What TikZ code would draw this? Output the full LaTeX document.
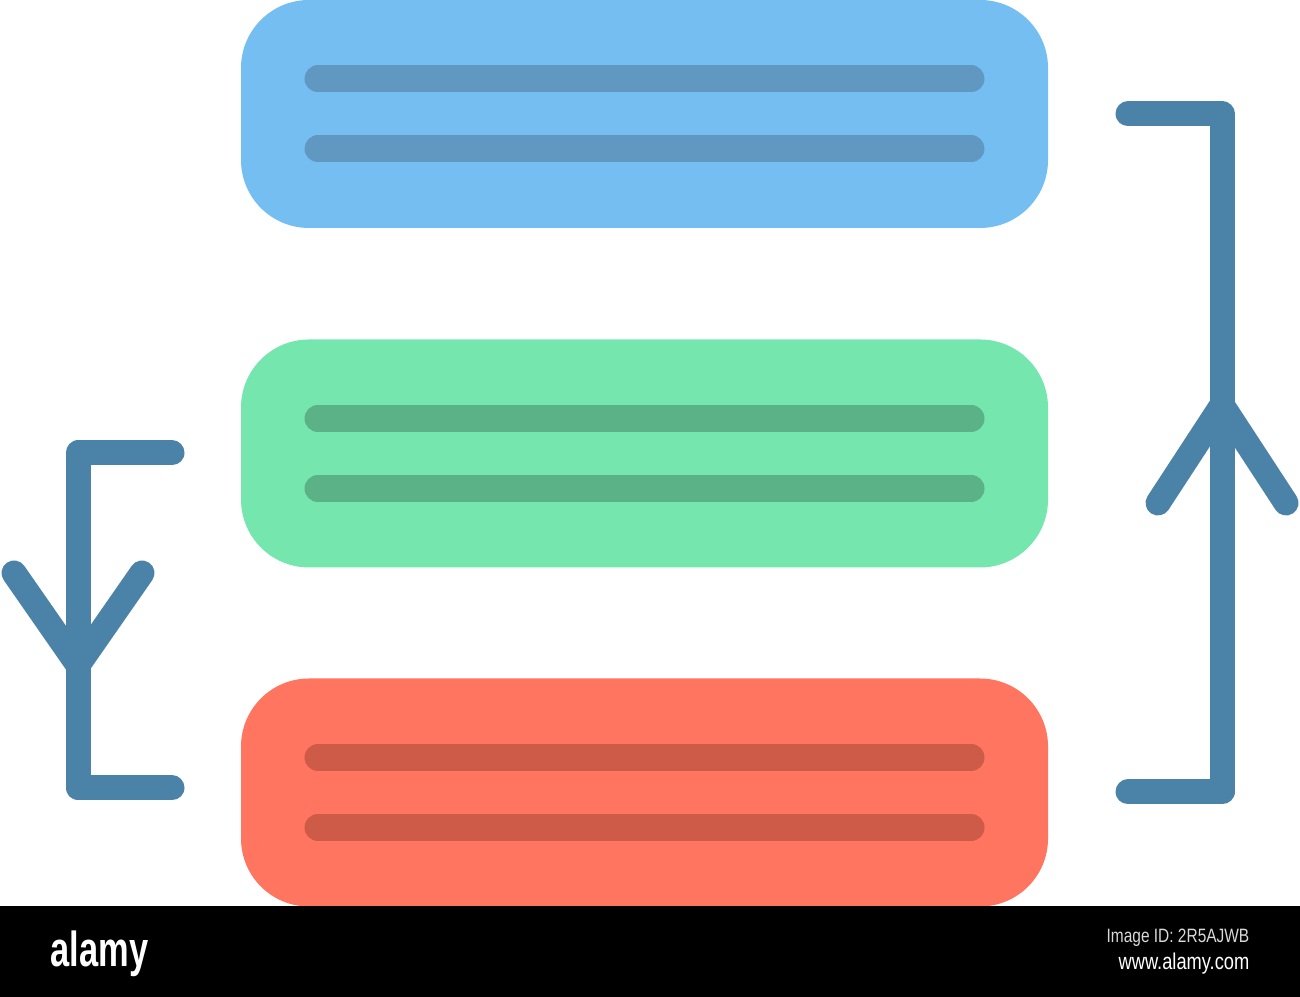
\documentclass[tikz,border=0pt]{standalone}
\usepackage{fontspec}
\setsansfont{Liberation Sans}
\definecolor{boxblue}{RGB}{116, 190, 242}
\definecolor{lineblue}{RGB}{96, 152, 194}
\definecolor{boxgreen}{RGB}{116, 230, 174}
\definecolor{linegreen}{RGB}{91, 178, 134}
\definecolor{boxred}{RGB}{255, 117, 96}
\definecolor{linered}{RGB}{206, 91, 72}
\definecolor{flowblue}{RGB}{74, 130, 168}
\usetikzlibrary{positioning, calc}

\begin{document}
\begin{tikzpicture}[
  card/.style={rounded corners=0.68cm, minimum width=8.07cm, minimum height=2.28cm, inner sep=0pt},
  bar/.style={line width=0.27cm, line cap=round},
  flow/.style={draw=flowblue, line width=0.25cm, line cap=round, line join=round}
]
  \useasboundingbox (0, 0) rectangle (13, 9.97);

  % Cards
  \node[card, fill=boxblue] (top) at (6.445, 8.83) {};
  \node[card, fill=boxgreen] (mid) at (6.445, 5.435) {};
  \node[card, fill=boxred] (bot) at (6.445, 2.045) {};

  % Text lines
  \draw[bar, lineblue] ($(top.center)+(-3.265, 0.35)$) -- ($(top.center)+(3.265, 0.35)$);
  \draw[bar, lineblue] ($(top.center)+(-3.265, -0.35)$) -- ($(top.center)+(3.265, -0.35)$);
  \draw[bar, linegreen] ($(mid.center)+(-3.265, 0.35)$) -- ($(mid.center)+(3.265, 0.35)$);
  \draw[bar, linegreen] ($(mid.center)+(-3.265, -0.35)$) -- ($(mid.center)+(3.265, -0.35)$);
  \draw[bar, linered] ($(bot.center)+(-3.265, 0.35)$) -- ($(bot.center)+(3.265, 0.35)$);
  \draw[bar, linered] ($(bot.center)+(-3.265, -0.35)$) -- ($(bot.center)+(3.265, -0.35)$);

  % Right bracket (up)
  \coordinate (rtop) at (11.28, 8.83);
  \coordinate (rbot) at (11.28, 2.05);
  \coordinate (rtip) at (12.22, 5.92);
  \draw[flow] (rtop) -- (12.22, 8.83) -- (12.22, 2.05) -- (rbot);
  \draw[flow] (11.58, 4.94) -- (rtip) -- (12.86, 4.94);

  % Left bracket (down)
  \coordinate (ltop) at (1.72, 5.44);
  \coordinate (lbot) at (1.72, 2.09);
  \coordinate (ltip) at (0.78, 3.32);
  \draw[flow] (ltop) -- (0.78, 5.44) -- (0.78, 2.09) -- (lbot);
  \draw[flow] (0.14, 4.24) -- (ltip) -- (1.42, 4.24);

  % Footer
  \fill[black] (0, 0) rectangle (13, 0.91);
  \node[font=\sffamily\bfseries\fontsize{14}{14}\selectfont\addfontfeature{FakeStretch=0.7}, text=white, anchor=west, inner sep=0pt] (logo) at (0.5, 0.43) {alamy};
  \node[font=\sffamily\fontsize{5.5}{6}\selectfont\addfontfeature{FakeStretch=0.8}, text=white!85!black, anchor=east, inner sep=0pt] (imgid) at (12.5, 0.59) {Image ID: 2R5AJWB};
  \node[font=\sffamily\fontsize{6.5}{7}\selectfont\addfontfeature{FakeStretch=0.8}, text=white, anchor=east, inner sep=0pt] (site) at (12.5, 0.33) {www.alamy.com};
\end{tikzpicture}
\end{document}
